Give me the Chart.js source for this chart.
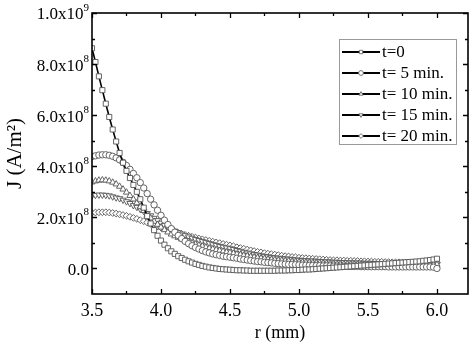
<!DOCTYPE html>
<html>
<head>
<meta charset="utf-8">
<script src="https://cdn.jsdelivr.net/npm/chart.js@4.4.1/dist/chart.umd.min.js"></script>
<style>
  html, body { margin: 0; padding: 0; background: #fff; }
  #wrap { width: 474px; height: 347px; }
</style>
</head>
<body>
<div id="wrap"><canvas id="jChart" width="474" height="347"></canvas></div>
<script>
// radius r (mm)
const r = [
  3.5, 3.525, 3.55, 3.575, 3.6, 3.625, 3.65, 3.675, 3.7, 3.725,
  3.75, 3.775, 3.8, 3.825, 3.85, 3.875, 3.9, 3.925, 3.95, 3.975,
  4.0, 4.025, 4.05, 4.075, 4.1, 4.125, 4.15, 4.175, 4.2, 4.225,
  4.25, 4.275, 4.3, 4.325, 4.35, 4.375, 4.4, 4.425, 4.45, 4.475,
  4.5, 4.525, 4.55, 4.575, 4.6, 4.625, 4.65, 4.675, 4.7, 4.725,
  4.75, 4.775, 4.8, 4.825, 4.85, 4.875, 4.9, 4.925, 4.95, 4.975,
  5.0, 5.025, 5.05, 5.075, 5.1, 5.125, 5.15, 5.175, 5.2, 5.225,
  5.25, 5.275, 5.3, 5.325, 5.35, 5.375, 5.4, 5.425, 5.45, 5.475,
  5.5, 5.525, 5.55, 5.575, 5.6, 5.625, 5.65, 5.675, 5.7, 5.725,
  5.75, 5.775, 5.8, 5.825, 5.85, 5.875, 5.9, 5.925, 5.95, 5.975,
  6.0
];

// current density J, in units of 1e8 A/m^2
const jT0 = [
  8.62, 8.08, 7.52, 6.98, 6.45, 5.93, 5.44, 4.97, 4.52, 4.14,
  3.82, 3.54, 3.27, 3.00, 2.71, 2.38, 2.05, 1.76, 1.50, 1.28,
  1.09, 0.93, 0.79, 0.67, 0.57, 0.48, 0.41, 0.34, 0.28, 0.23,
  0.18, 0.14, 0.10, 0.07, 0.04, 0.02, 0.00, -0.02, -0.03, -0.04,
  -0.05, -0.06, -0.07, -0.07, -0.08, -0.08, -0.09, -0.09, -0.09, -0.09,
  -0.09, -0.09, -0.09, -0.09, -0.08, -0.08, -0.08, -0.07, -0.07, -0.06,
  -0.06, -0.05, -0.04, -0.04, -0.03, -0.02, -0.01, 0.00, 0.01, 0.02,
  0.03, 0.04, 0.05, 0.06, 0.07, 0.08, 0.09, 0.10, 0.11, 0.12,
  0.13, 0.14, 0.15, 0.16, 0.17, 0.18, 0.19, 0.20, 0.21, 0.22,
  0.23, 0.24, 0.25, 0.26, 0.27, 0.28, 0.30, 0.31, 0.33, 0.35,
  0.38
];
const jT5 = [
  4.38, 4.41, 4.44, 4.45, 4.45, 4.43, 4.39, 4.33, 4.25, 4.15,
  4.03, 3.88, 3.72, 3.55, 3.36, 3.15, 2.93, 2.71, 2.49, 2.28,
  2.08, 1.89, 1.72, 1.56, 1.42, 1.29, 1.17, 1.06, 0.97, 0.89,
  0.82, 0.76, 0.70, 0.65, 0.61, 0.57, 0.54, 0.51, 0.48, 0.46,
  0.44, 0.42, 0.40, 0.37, 0.35, 0.33, 0.31, 0.29, 0.27, 0.26,
  0.24, 0.23, 0.22, 0.20, 0.19, 0.18, 0.17, 0.16, 0.16, 0.15,
  0.14, 0.13, 0.13, 0.12, 0.12, 0.11, 0.11, 0.10, 0.10, 0.10,
  0.09, 0.09, 0.09, 0.08, 0.08, 0.08, 0.08, 0.08, 0.07, 0.07,
  0.07, 0.07, 0.07, 0.07, 0.07, 0.07, 0.06, 0.06, 0.06, 0.06,
  0.06, 0.06, 0.06, 0.06, 0.06, 0.06, 0.06, 0.06, 0.06, 0.05,
  0.00
];
const jT10 = [
  3.38, 3.42, 3.45, 3.46, 3.45, 3.42, 3.37, 3.30, 3.21, 3.10,
  2.98, 2.85, 2.71, 2.56, 2.41, 2.26, 2.11, 1.97, 1.84, 1.72,
  1.61, 1.51, 1.42, 1.34, 1.27, 1.21, 1.15, 1.10, 1.05, 1.00,
  0.95, 0.91, 0.87, 0.83, 0.79, 0.76, 0.73, 0.70, 0.67, 0.64,
  0.62, 0.59, 0.56, 0.54, 0.51, 0.49, 0.46, 0.44, 0.42, 0.40,
  0.38, 0.36, 0.35, 0.33, 0.32, 0.31, 0.30, 0.29, 0.27, 0.26,
  0.25, 0.24, 0.24, 0.23, 0.22, 0.21, 0.21, 0.20, 0.19, 0.19,
  0.18, 0.18, 0.17, 0.17, 0.17, 0.16, 0.16, 0.16, 0.15, 0.15,
  0.15, 0.15, 0.14, 0.14, 0.14, 0.14, 0.14, 0.13, 0.13, 0.13,
  0.13, 0.13, 0.13, 0.13, 0.13, 0.14, 0.14, 0.14, 0.14, 0.15,
  0.15
];
const jT15 = [
  2.85, 2.87, 2.88, 2.88, 2.87, 2.85, 2.81, 2.77, 2.74, 2.68,
  2.62, 2.55, 2.47, 2.40, 2.32, 2.24, 2.16, 2.07, 1.97, 1.88,
  1.78, 1.69, 1.61, 1.54, 1.47, 1.41, 1.35, 1.29, 1.24, 1.19,
  1.14, 1.10, 1.06, 1.02, 0.98, 0.94, 0.91, 0.87, 0.84, 0.81,
  0.78, 0.75, 0.71, 0.68, 0.64, 0.61, 0.58, 0.55, 0.53, 0.50,
  0.48, 0.46, 0.44, 0.42, 0.41, 0.39, 0.38, 0.37, 0.35, 0.34,
  0.33, 0.32, 0.31, 0.30, 0.30, 0.29, 0.28, 0.27, 0.27, 0.26,
  0.25, 0.25, 0.24, 0.24, 0.23, 0.23, 0.22, 0.22, 0.22, 0.21,
  0.21, 0.21, 0.20, 0.20, 0.20, 0.19, 0.19, 0.19, 0.19, 0.18,
  0.18, 0.18, 0.18, 0.18, 0.18, 0.18, 0.18, 0.18, 0.18, 0.18,
  0.18
];
const jT20 = [
  2.18, 2.19, 2.20, 2.20, 2.20, 2.19, 2.17, 2.15, 2.12, 2.09,
  2.06, 2.02, 1.98, 1.94, 1.89, 1.85, 1.80, 1.75, 1.70, 1.65,
  1.60, 1.56, 1.51, 1.47, 1.43, 1.39, 1.35, 1.31, 1.28, 1.24,
  1.21, 1.17, 1.14, 1.11, 1.08, 1.05, 1.02, 0.99, 0.96, 0.93,
  0.90, 0.87, 0.83, 0.80, 0.77, 0.74, 0.71, 0.68, 0.65, 0.63,
  0.60, 0.58, 0.56, 0.54, 0.52, 0.50, 0.48, 0.47, 0.45, 0.44,
  0.42, 0.41, 0.40, 0.39, 0.38, 0.37, 0.36, 0.35, 0.34, 0.33,
  0.32, 0.32, 0.31, 0.31, 0.30, 0.30, 0.29, 0.29, 0.28, 0.28,
  0.27, 0.27, 0.26, 0.26, 0.26, 0.25, 0.25, 0.24, 0.24, 0.24,
  0.23, 0.23, 0.23, 0.23, 0.22, 0.22, 0.22, 0.22, 0.22, 0.22,
  0.22
];

const seriesLabels = ['t=0', 't= 5 min.', 't= 10 min.', 't= 15 min.', 't= 20 min.'];

const xTicks = [3.5, 4.0, 4.5, 5.0, 5.5, 6.0];
const xMinor = [3.75, 4.25, 4.75, 5.25, 5.75];
const yTicks = [0, 2, 4, 6, 8, 10];
const yMinor = [1, 3, 5, 7, 9];
const yTickText = ['0.0', '2.0x10', '4.0x10', '6.0x10', '8.0x10', '1.0x10'];
const yTickExp = ['', '8', '8', '8', '8', '9'];

const SERIF = '"Liberation Serif", "Times New Roman", serif';

const markers = [
  { pointStyle: 'rect', pointRadius: 3.6, pointRotation: 0, borderWidth: 1.6 },
  { pointStyle: 'circle', pointRadius: 3.2, pointRotation: 0, borderWidth: 1 },
  { pointStyle: 'triangle', pointRadius: 3.6, pointRotation: 0, borderWidth: 1 },
  { pointStyle: 'triangle', pointRadius: 3.6, pointRotation: 180, borderWidth: 1 },
  { pointStyle: 'rectRot', pointRadius: 3.4, pointRotation: 0, borderWidth: 1 }
];

const datasets = [jT0, jT5, jT10, jT15, jT20].map((vals, k) => ({
  label: seriesLabels[k],
  data: r.map((x, i) => ({ x: x, y: vals[i] })),
  borderColor: '#000',
  borderWidth: markers[k].borderWidth,
  tension: 0,
  pointStyle: markers[k].pointStyle,
  pointRadius: markers[k].pointRadius,
  pointRotation: markers[k].pointRotation,
  pointBackgroundColor: '#fff',
  pointBorderColor: '#555',
  pointBorderWidth: 0.9,
  pointHoverRadius: markers[k].pointRadius
}));

// box, inward ticks and y labels with exponents
const framePlugin = {
  id: 'frame',
  afterDatasetsDraw(chart) {
    const { ctx, chartArea: a, scales: { x, y } } = chart;
    ctx.save();
    ctx.strokeStyle = '#000';
    ctx.lineWidth = 1.6;
    ctx.strokeRect(a.left, a.top, a.right - a.left, a.bottom - a.top);

    ctx.lineWidth = 1.3;
    ctx.beginPath();
    const xt = (v, len) => {
      const px = Math.round(x.getPixelForValue(v)) + 0.5;
      ctx.moveTo(px, a.bottom); ctx.lineTo(px, a.bottom - len);
      ctx.moveTo(px, a.top); ctx.lineTo(px, a.top + len);
    };
    const yt = (v, len) => {
      const py = Math.round(y.getPixelForValue(v)) + 0.5;
      ctx.moveTo(a.left, py); ctx.lineTo(a.left + len, py);
      ctx.moveTo(a.right, py); ctx.lineTo(a.right - len, py);
    };
    xTicks.forEach(v => xt(v, 5));
    xMinor.forEach(v => xt(v, 3));
    yTicks.forEach(v => yt(v, 5));
    yMinor.forEach(v => yt(v, 3));
    ctx.stroke();

    ctx.fillStyle = '#000';
    ctx.textBaseline = 'middle';
    yTicks.forEach((v, i) => {
      const py = y.getPixelForValue(v) + 2;
      const right = a.left - 3;
      ctx.font = '11px ' + SERIF;
      const ew = yTickExp[i] ? ctx.measureText(yTickExp[i]).width : 0;
      if (yTickExp[i]) {
        ctx.textAlign = 'left';
        ctx.fillText(yTickExp[i], right - ew, py - 7);
      }
      ctx.font = '17px ' + SERIF;
      ctx.textAlign = 'right';
      ctx.fillText(yTickText[i], right - ew, py);
    });
    ctx.restore();
  }
};

const legendPlugin = {
  id: 'boxLegend',
  afterDraw(chart) {
    const { ctx } = chart;
    ctx.save();
    ctx.strokeStyle = '#999';
    ctx.lineWidth = 1;
    ctx.strokeRect(339.5, 39.5, 117, 105);
    ctx.font = '17px ' + SERIF;
    ctx.textAlign = 'left';
    ctx.textBaseline = 'middle';
    chart.data.datasets.forEach((ds, k) => {
      const ly = 52 + k * 21;
      ctx.strokeStyle = '#000';
      ctx.lineWidth = 2;
      ctx.beginPath();
      ctx.moveTo(342, ly); ctx.lineTo(380, ly);
      ctx.stroke();
      ctx.fillStyle = '#fff';
      ctx.strokeStyle = '#666';
      ctx.lineWidth = 0.9;
      Chart.helpers.drawPoint(ctx, {
        pointStyle: ds.pointStyle, radius: 2.4, rotation: ds.pointRotation, borderWidth: 0.9
      }, 361, ly);
      ctx.fillStyle = '#000';
      ctx.fillText(ds.label, 382, ly + 1);
    });
    ctx.restore();
  }
};

new Chart(document.getElementById('jChart'), {
  type: 'line',
  data: { datasets: datasets },
  plugins: [framePlugin, legendPlugin],
  options: {
    responsive: false,
    animation: false,
    devicePixelRatio: 1,
    layout: { padding: { left: 0, right: 6, top: 13, bottom: 0 } },
    plugins: { legend: { display: false }, tooltip: { enabled: false } },
    scales: {
      x: {
        type: 'linear',
        min: 3.5,
        max: 6.225,
        afterBuildTicks: s => { s.ticks = xTicks.map(v => ({ value: v })); },
        afterFit: s => { s.height = 53; },
        grid: { display: false, drawTicks: false },
        border: { display: false },
        ticks: {
          padding: 6,
          color: '#000',
          font: { family: SERIF, size: 18 },
          callback: v => Number(v).toFixed(1),
          maxRotation: 0
        },
        title: {
          display: true,
          text: 'r (mm)',
          color: '#000',
          font: { family: SERIF, size: 18 },
          padding: { top: 0, bottom: 3 }
        }
      },
      y: {
        type: 'linear',
        min: -1,
        max: 10,
        afterFit: s => { s.width = 92; },
        grid: { display: false, drawTicks: false },
        border: { display: false },
        ticks: { display: false },
        title: {
          display: true,
          text: 'J (A/m²)',
          color: '#000',
          font: { family: SERIF, size: 21 },
          padding: { top: 3, bottom: 0 }
        }
      }
    }
  }
});
</script>
</body>
</html>
